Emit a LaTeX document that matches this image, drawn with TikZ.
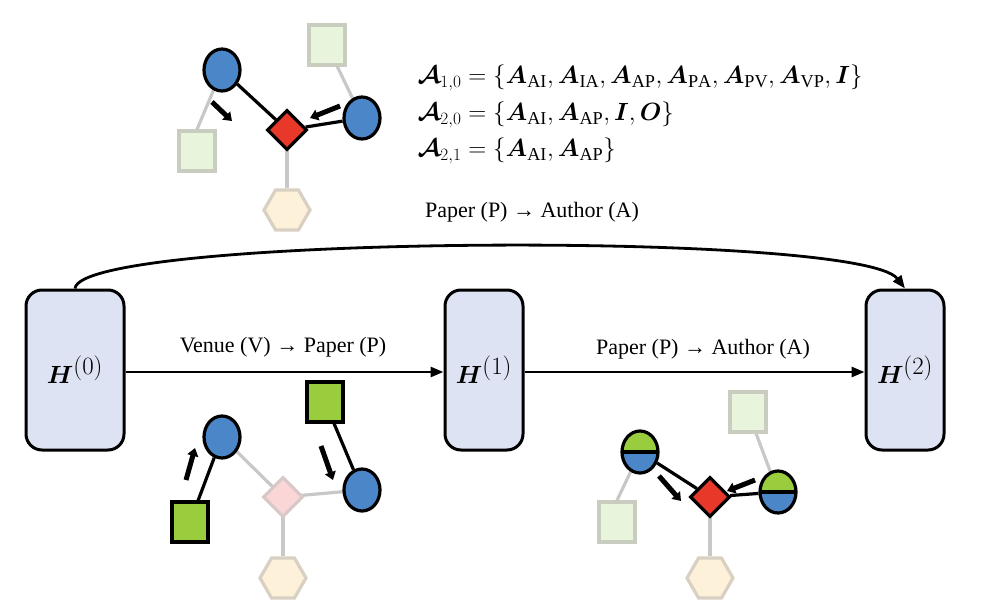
\documentclass[tikz,border=0pt]{standalone}
\usepackage{amsmath,bm}
\usepackage{fontspec}
\setmainfont{Liberation Serif}
\usetikzlibrary{shapes.geometric,arrows.meta}
\definecolor{cblue}{HTML}{4A86C8}
\definecolor{cred}{HTML}{E8382A}
\definecolor{cgreen}{HTML}{9ACD3E}
\definecolor{lgreen}{HTML}{E9F4DC}
\definecolor{lgreenb}{HTML}{C8CDC0}
\definecolor{lhex}{HTML}{FDF1DA}
\definecolor{lhexb}{HTML}{D8D0C2}
\definecolor{lpink}{HTML}{FBD6D6}
\definecolor{lpinkb}{HTML}{D9C8C8}
\definecolor{boxf}{HTML}{DDE3F2}
\definecolor{gline}{HTML}{C8C8C8}
\begin{document}
\begin{tikzpicture}[x=1pt,y=-1pt,
  circ/.style={ellipse,draw=black,line width=3.2pt,fill=cblue,minimum width=36pt,minimum height=42pt,inner sep=0},
  half/.style={ellipse,draw=black,line width=3.2pt,minimum width=36pt,minimum height=42pt,inner sep=0,
     path picture={\fill[cgreen] (path picture bounding box.north west) rectangle (path picture bounding box.east);
                   \fill[cblue] (path picture bounding box.west) rectangle (path picture bounding box.south east);
                   \draw[line width=3.2pt] (path picture bounding box.west) -- (path picture bounding box.east);}},
  dia/.style={diamond,draw=black,line width=3.2pt,fill=cred,minimum width=40pt,minimum height=40pt,inner sep=0},
  ldia/.style={diamond,draw=lpinkb,line width=3.2pt,fill=lpink,minimum width=40pt,minimum height=40pt,inner sep=0},
  sq/.style={rectangle,draw=black,line width=3.2pt,fill=cgreen,minimum width=36pt,minimum height=40pt,inner sep=0},
  lsq/.style={rectangle,draw=lgreenb,line width=3.2pt,fill=lgreen,minimum width=36pt,minimum height=40pt,inner sep=0},
  hex/.style={regular polygon,regular polygon sides=6,draw=lhexb,line width=3.2pt,fill=lhex,minimum size=46pt,inner sep=0},
  bl/.style={line width=3.2pt,black},
  gl/.style={line width=3.2pt,gline},
  sa/.style={line width=5pt,-{Triangle[length=8pt,width=11pt]}},
  hbox/.style={rectangle,rounded corners=16pt,draw=black,line width=3pt,fill=boxf,minimum width=98pt,minimum height=160pt,font=\fontsize{38}{42}\selectfont},
  lab/.style={font=\fontsize{22}{26}\selectfont},
  flab/.style={font=\fontsize{26}{30}\selectfont},
  conn/.style={line width=2.8pt,-{Triangle[length=13pt,width=10pt]}}]
\useasboundingbox (0,0) rectangle (984,610);
% top-left graph
\node[lsq] (ts1) at (327,45) {};
\node[lsq] (ts2) at (197,151) {};
\node[hex] (th) at (287,210) {};
\draw[gl] (ts1) -- (362,118); \draw[gl] (222,70) -- (ts2.north); \draw[gl] (287,130) -- (th);
\node[dia] (td) at (287,130) {};
\node[circ] (tc1) at (222,70) {};
\node[circ] (tc2) at (362,118) {};
\draw[bl] (tc1) -- (td); \draw[bl] (tc2) -- (td);
\coordinate (ta1s) at (212,102); \coordinate (ta1e) at (232,121);
\coordinate (ta2s) at (340,106); \coordinate (ta2e) at (310,118);
\draw[sa] (ta1s) -- (ta1e); \draw[sa] (ta2s) -- (ta2e);
% formulas
\node[flab,anchor=west] (f1) at (414,78) {$\bm{\mathcal{A}}_{1,0}=\{\bm{A}_{\mathrm{AI}},\bm{A}_{\mathrm{IA}},\bm{A}_{\mathrm{AP}},\bm{A}_{\mathrm{PA}},\bm{A}_{\mathrm{PV}},\bm{A}_{\mathrm{VP}},\bm{I}\}$};
\node[flab,anchor=west] (f2) at (414,115) {$\bm{\mathcal{A}}_{2,0}=\{\bm{A}_{\mathrm{AI}},\bm{A}_{\mathrm{AP}},\bm{I},\bm{O}\}$};
\node[flab,anchor=west] (f3) at (414,151) {$\bm{\mathcal{A}}_{2,1}=\{\bm{A}_{\mathrm{AI}},\bm{A}_{\mathrm{AP}}\}$};
% boxes
\node[hbox] (h0) at (75,370) {$\bm{H}^{(0)}$};
\node[hbox,minimum width=78pt] (h1) at (484,370) {$\bm{H}^{(1)}$};
\node[hbox,minimum width=78pt] (h2) at (905,370) {$\bm{H}^{(2)}$};
\draw[conn] (h0.east|-0,372) -- (h1.west|-0,372);
\draw[conn] (h1.east|-0,372) -- (h2.west|-0,372);
\draw[conn] (h0.north) .. controls (80,235) and (860,230) .. (h2.north);
\node[lab] (l1) at (283,347) {Venue (V) → Paper (P)};
\node[lab] (l2) at (703,349) {Paper (P) → Author (A)};
\node[lab] (l3) at (532,212) {Paper (P) → Author (A)};
% bottom-left graph
\node[hex] (bh) at (283,578) {};
\draw[gl] (222,437) -- (283,497); \draw[gl] (362,490) -- (283,497); \draw[gl] (283,497) -- (bh);
\node[ldia] (bd) at (283,497) {};
\node[sq] (bs1) at (325,402) {};
\node[sq] (bs2) at (190,522) {};
\node[circ] (bc1) at (222,437) {};
\node[circ] (bc2) at (362,490) {};
\draw[bl] (bs2) -- (bc1); \draw[bl] (bs1) -- (bc2);
\coordinate (ba1s) at (186,480); \coordinate (ba1e) at (195,448);
\coordinate (ba2s) at (321,446); \coordinate (ba2e) at (333,480);
\draw[sa] (ba1s) -- (ba1e); \draw[sa] (ba2s) -- (ba2e);
% bottom-right graph
\node[hex] (rh) at (710,578) {};
\node[lsq] (rs1) at (748,412) {};
\node[lsq] (rs2) at (617,522) {};
\draw[gl] (640,452) -- (rs2.north); \draw[gl] (rs1) -- (778,492); \draw[gl] (710,497) -- (rh);
\node[dia] (rd) at (710,497) {};
\node[half] (rc1) at (640,452) {};
\node[half] (rc2) at (778,492) {};
\draw[bl] (rc1) -- (rd); \draw[bl] (rc2) -- (rd);
\coordinate (ra1s) at (659,476); \coordinate (ra1e) at (681,501);
\coordinate (ra2s) at (755,480); \coordinate (ra2e) at (727,491);
\draw[sa] (ra1s) -- (ra1e); \draw[sa] (ra2s) -- (ra2e);
\end{tikzpicture}
\end{document}
